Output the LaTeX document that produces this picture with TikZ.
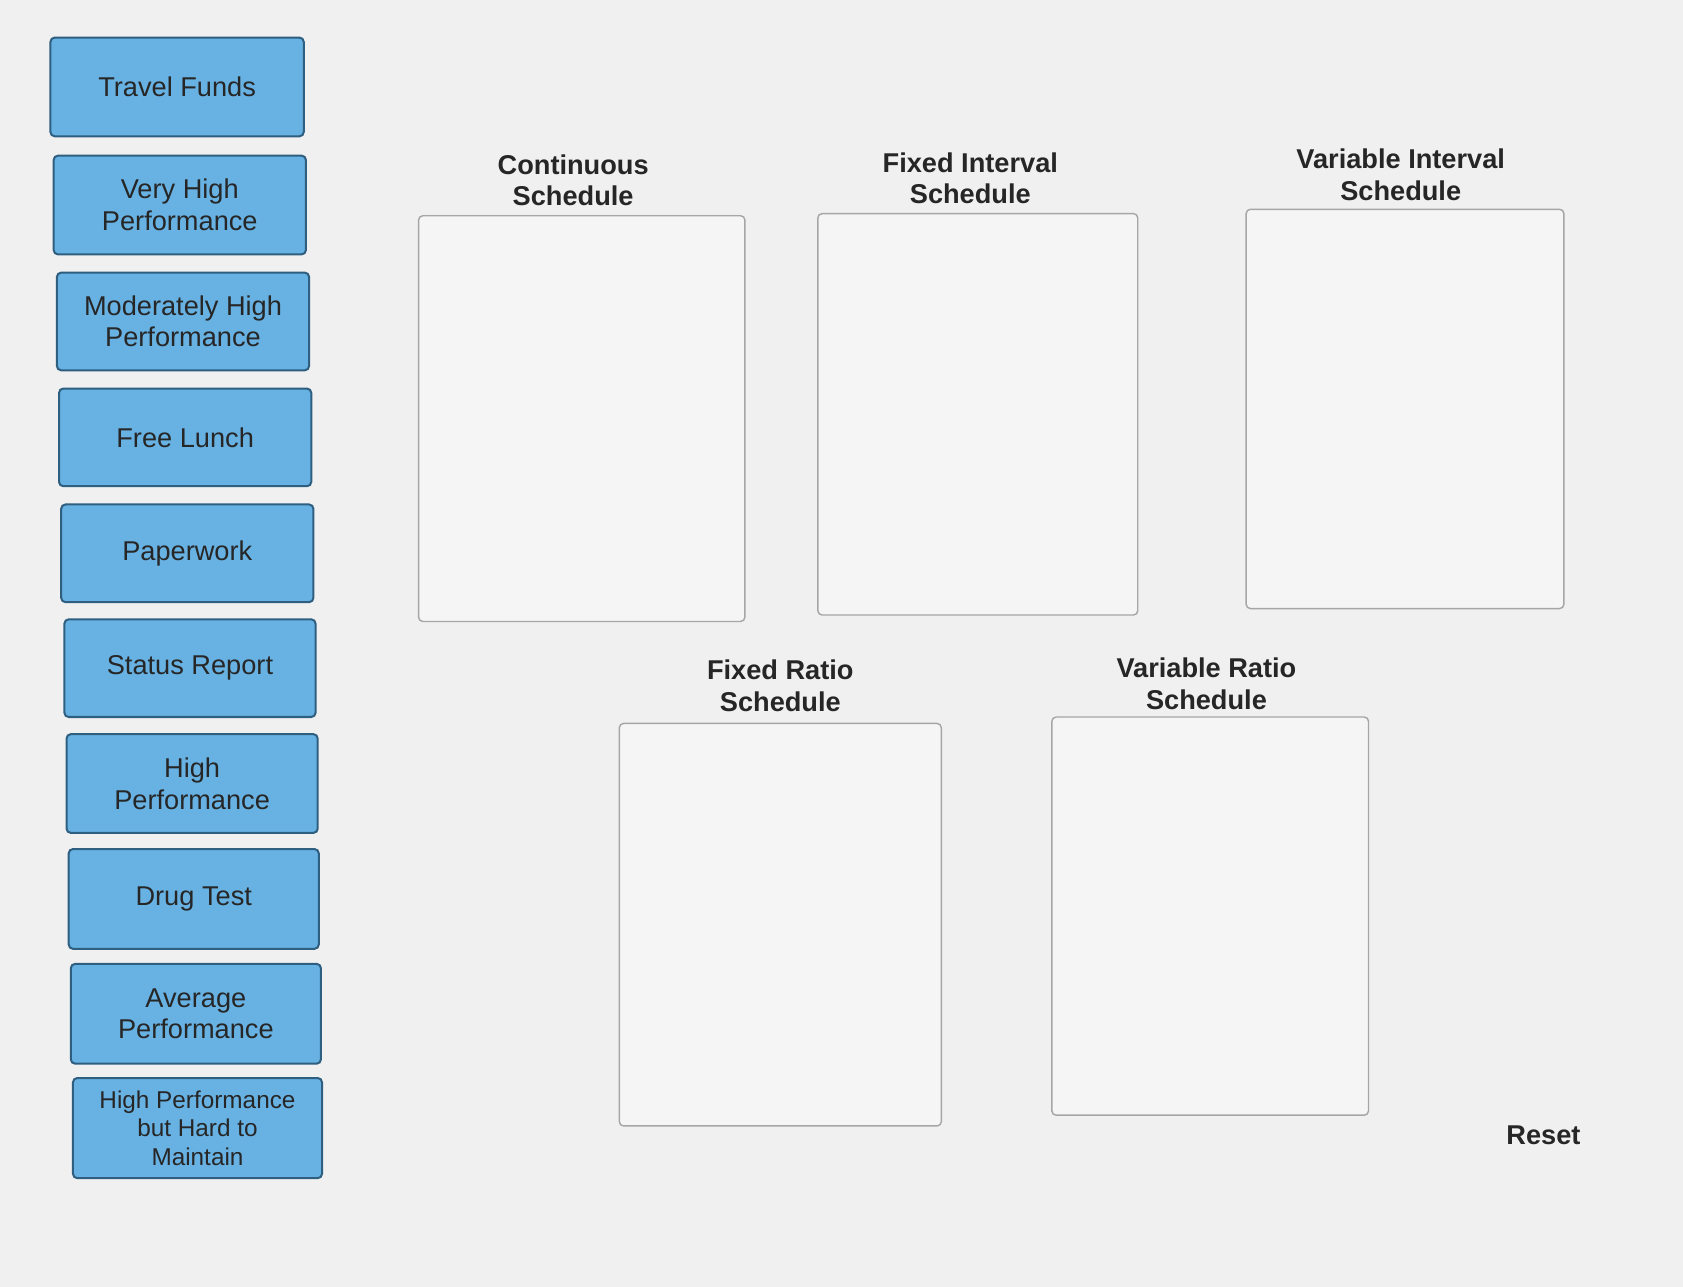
\documentclass[tikz,border=0pt]{standalone}
\usepackage{fontspec}
\setmainfont{Liberation Sans}
\definecolor{chipfill}{HTML}{68B2E3}
\definecolor{chipline}{HTML}{2E5F80}
\begin{document}
\begin{tikzpicture}[x=0.75pt,y=-0.75pt,
  chip/.style={draw=chipline, line width=1.4pt, fill=chipfill, rounded corners=3pt, align=center, font=\fontsize{19}{22}\selectfont, text=black!85, inner sep=0pt},
  drop/.style={draw=gray!70, line width=1pt, fill=gray!8, rounded corners=3pt},
  ttl/.style={align=center, font=\bfseries\fontsize{19}{22}\selectfont, text=black!85}]
\fill[gray!12] (0,0) rectangle (1568,1199);
\useasboundingbox (0,0) rectangle (1568,1199);
\def\chipbox#1#2#3#4#5#6{\node[chip, minimum width=#3*0.75pt-#1*0.75pt, minimum height=#4*0.75pt-#2*0.75pt] (#5) at ({(#1+#3)/2},{(#2+#4)/2}) {#6};}
\chipbox{47}{35}{283}{127}{c1}{Travel Funds}
\chipbox{50}{145}{285}{237}{c2}{Very High\\Performance}
\chipbox{53}{254}{288}{345}{c3}{Moderately High\\Performance}
\chipbox{55}{362}{290}{453}{c4}{Free Lunch}
\chipbox{57}{470}{292}{561}{c5}{Paperwork}
\chipbox{60}{577}{294}{668}{c6}{Status Report}
\chipbox{62}{684}{296}{776}{c7}{High\\Performance}
\chipbox{64}{791}{297}{884}{c8}{Drug Test}
\chipbox{66}{898}{299}{991}{c9}{Average\\Performance}
\node[chip, minimum width=174pt, minimum height=70pt, font=\fontsize{17}{20}\selectfont] (c10) at (184,1051) {High Performance\\but Hard to\\Maintain};
\draw[drop] (390,201) rectangle (694,579); \node[ttl] (t1) at (534,168) {Continuous\\Schedule};
\draw[drop] (762,199) rectangle (1060,573); \node[ttl] (t2) at (904,166) {Fixed Interval\\Schedule};
\draw[drop] (1161,195) rectangle (1457,567); \node[ttl] (t3) at (1305,163) {Variable Interval\\Schedule};
\draw[drop] (577,674) rectangle (877,1049); \node[ttl] (t4) at (727,639) {Fixed Ratio\\Schedule};
\draw[drop] (980,668) rectangle (1275,1039); \node[ttl] (t5) at (1124,637) {Variable Ratio\\Schedule};
\node[ttl] (reset) at (1438,1058) {Reset};
\end{tikzpicture}
\end{document}
